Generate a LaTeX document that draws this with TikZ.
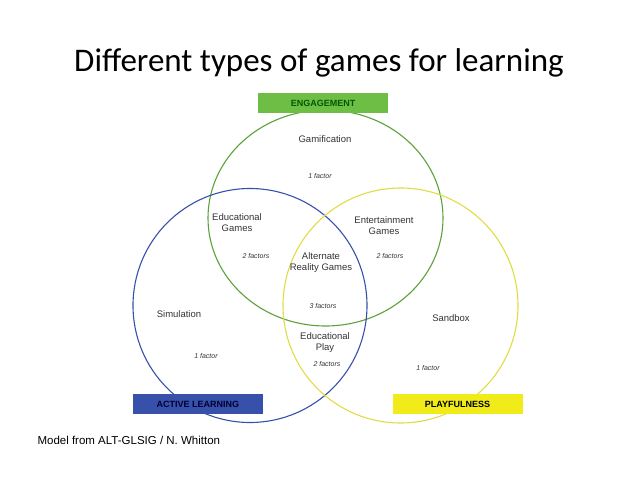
\documentclass[tikz,border=0pt]{standalone}
\usepackage{fontspec}
\setmainfont{Liberation Sans}
\newfontfamily\titlefont{Carlito}
\begin{document}
\begin{tikzpicture}[x=1pt,y=-1pt,
  lbl/.style={font=\fontsize{9.5}{11}\selectfont,align=center,text=black!80},
  fac/.style={font=\itshape\fontsize{7}{8}\selectfont,text=black!80},
  cat/.style={minimum width=130pt,minimum height=20pt,inner sep=0pt,font=\bfseries\fontsize{9}{10}\selectfont}]
\useasboundingbox (0,0) rectangle (638,479);
\definecolor{cg}{RGB}{110,190,70}
\definecolor{cb}{RGB}{55,80,170}
\definecolor{cy}{RGB}{240,235,25}
\node[font=\titlefont\fontsize{33}{38}\selectfont] (t) at (319,63) {Different types of games for learning};
\draw[cg!85!black,line width=1.1pt] (325.5,218) ellipse [x radius=117.5,y radius=108];
\draw[cb,line width=1.1pt] (250,305.5) circle (117);
\draw[cy!90!black!80,line width=1.1pt] (400.5,305.5) circle (117.5);
\node[cat,fill=cg,text=green!35!black] (e) at (323,103) {ENGAGEMENT};
\node[cat,fill=cb,text=black!80!blue] (a) at (198,404) {ACTIVE LEARNING};
\node[cat,fill=cy,text=black] (p) at (457.5,404) {PLAYFULNESS};
\node[lbl] (g1) at (325,139) {Gamification};
\node[fac] (f1) at (320,176) {1 factor};
\node[lbl] (g2) at (237,223) {Educational\\Games};
\node[fac] (f2) at (256,256) {2 factors};
\node[lbl] (g3) at (384,226) {Entertainment\\Games};
\node[fac] (f3) at (390,256) {2 factors};
\node[lbl] (g4) at (321,263) {Alternate\\Reality Games};
\node[fac] (f4) at (323,306) {3 factors};
\node[lbl] (g5) at (179,314) {Simulation};
\node[fac] (f5) at (206,356) {1 factor};
\node[lbl] (g6) at (325,343) {Educational\\Play};
\node[fac] (f6) at (327,364) {2 factors};
\node[lbl] (g7) at (451,318) {Sandbox};
\node[fac] (f7) at (428,368) {1 factor};
\node[anchor=west,font=\fontsize{11.5}{13}\selectfont] (m) at (34,440) {Model from ALT-GLSIG / N. Whitton};
\end{tikzpicture}
\end{document}
